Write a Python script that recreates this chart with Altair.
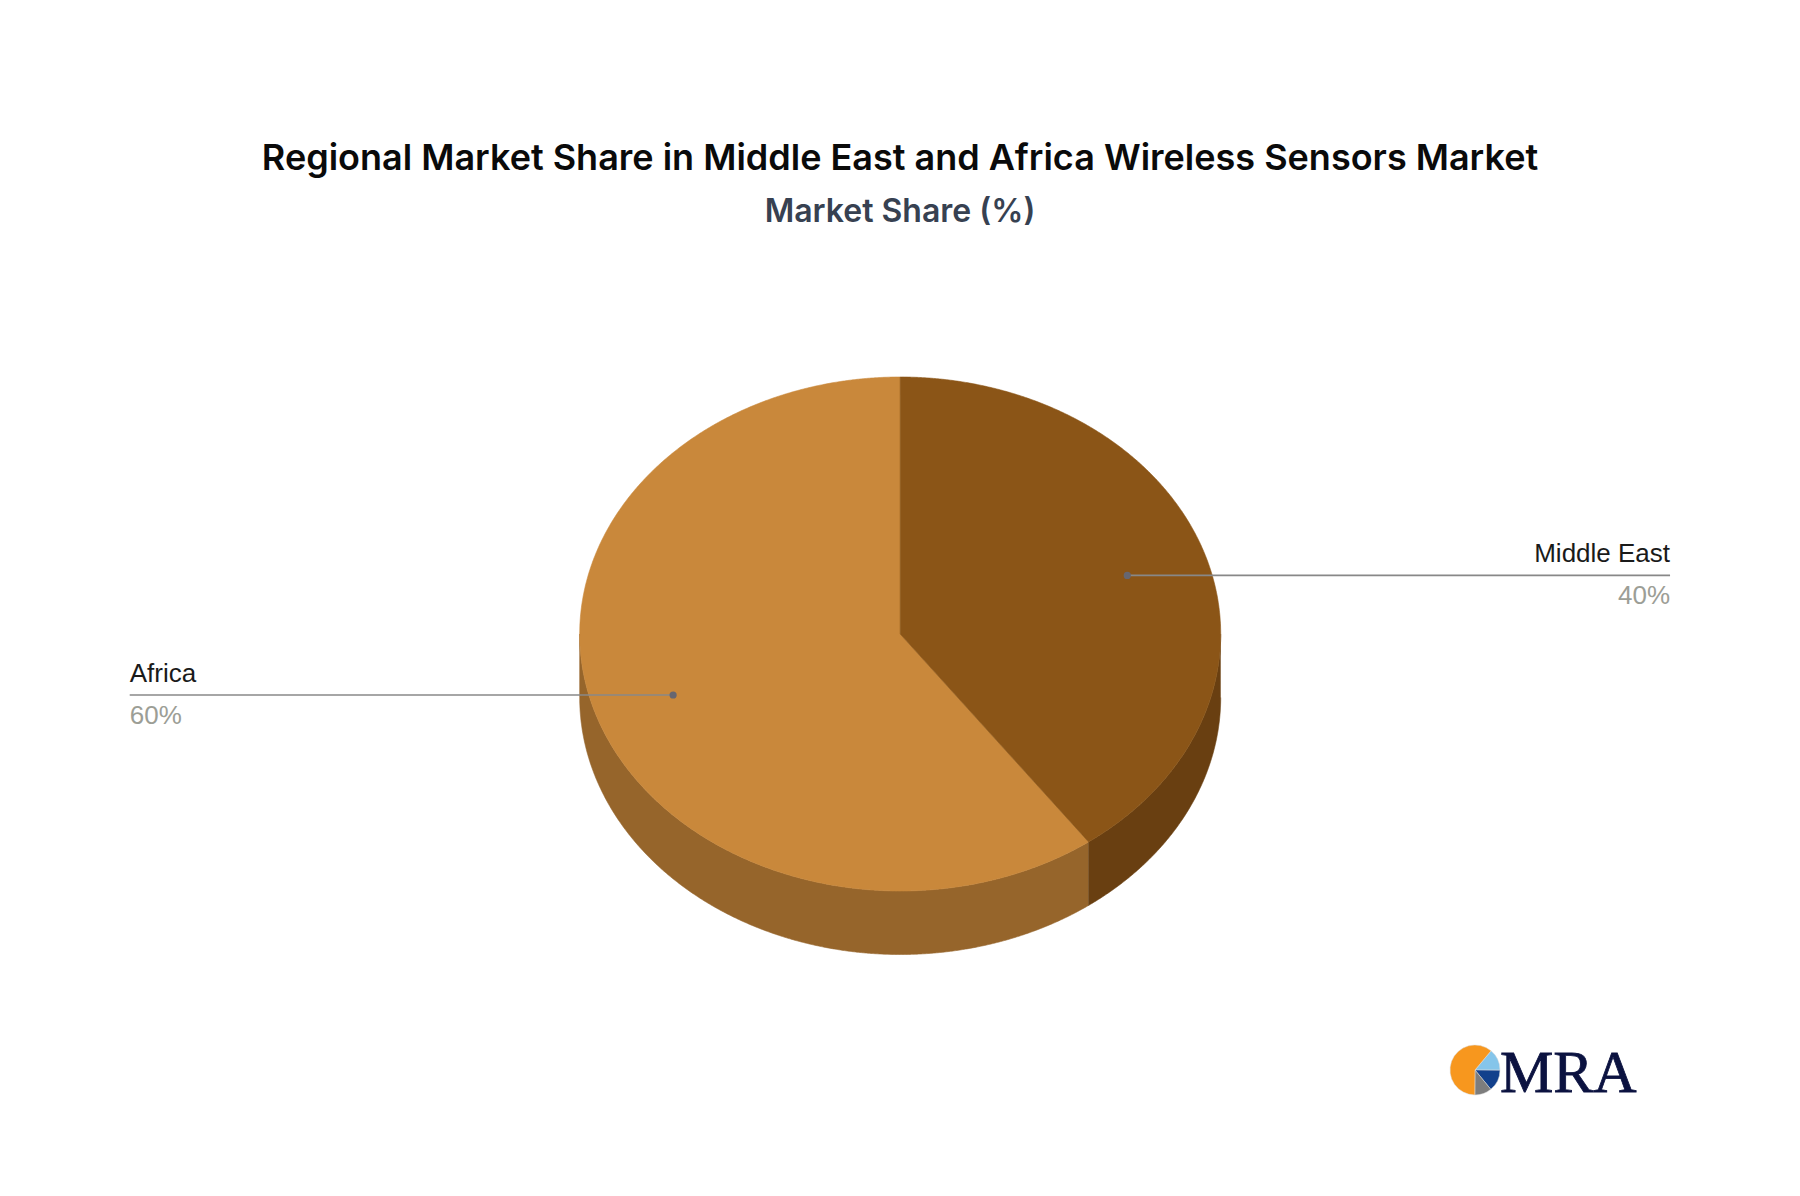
import math
import altair as alt
import pandas as pd

TITLE = "Regional Market Share in Middle East and Africa Wireless Sensors Market"
SUBTITLE = "Market Share (%)"
REGIONS = ["Middle East", "Africa"]
SHARES = [40, 60]
LEADER_Y_RADIUS = [0.738, 0.768]
LOGO_PARTS = ["sky", "navy", "grey", "orange"]
LOGO_SHARES = [14, 14, 11, 61]

PAGE = 8
TOP = 300
BOTTOM = 1188
W = 1800 - 2 * PAGE
H = BOTTOM - TOP
CX, CY, RX, RY, DEPTH = 900.2, 634, 320.5, 257, 63.5
d = DEPTH / RY
xscale = alt.Scale(domain=[(PAGE - CX) / RX, (PAGE + W - CX) / RX], nice=False, zero=False)
yscale = alt.Scale(domain=[(CY - BOTTOM) / RY, (CY - TOP) / RY], nice=False, zero=False)

# slice boundaries, clockwise from 12 o'clock, in radians
bounds = [0.0]
for s in SHARES:
    bounds.append(bounds[-1] + 2 * math.pi * s / sum(SHARES))


def arc(a, b, dy=0.0, step=math.radians(0.25)):
    n = max(2, int(abs(b - a) / step))
    return [(math.sin(a + (b - a) * i / n), math.cos(a + (b - a) * i / n) - dy) for i in range(n + 1)]


def shape(points, color):
    df = pd.DataFrame(points, columns=["x", "y"])
    df["i"] = range(len(df))
    return alt.Chart(df).mark_line(fill=color, stroke=color, strokeWidth=0.6, interpolate="linear").encode(
        x=alt.X("x:Q", scale=xscale, axis=None),
        y=alt.Y("y:Q", scale=yscale, axis=None),
        order="i:Q",
    )


def top_slice(a, b, color):
    return shape([(0.0, 0.0)] + arc(a, b) + [(0.0, 0.0)], color)


def wall(a, b, color):
    a, b = max(a, math.pi / 2), min(b, 3 * math.pi / 2)
    return shape(arc(a, b) + arc(b, a, d), color)


# Leader lines: anchored on each slice's mid angle
ANCHOR_R = 0.745
LABEL_X = 2.402
LABEL_X_LEFT = -2.404
mid = [(bounds[i] + bounds[i + 1]) / 2 for i in range(2)]
leaders = pd.DataFrame({
    "region": REGIONS,
    "pct": [f"{s}%" for s in SHARES],
    "x": [ANCHOR_R * math.sin(m) for m in mid],
    "y": [r * math.cos(m) for r, m in zip(LEADER_Y_RADIUS, mid)],
    "end": [LABEL_X, LABEL_X_LEFT],
})
pos = dict(x=alt.X("x:Q", scale=xscale, axis=None), y=alt.Y("y:Q", scale=yscale, axis=None))
rules = alt.Chart(leaders).mark_rule(color="#888888", strokeWidth=1.6).encode(
    x=alt.X("x:Q", scale=xscale, axis=None), x2="end:Q", y=alt.Y("y:Q", scale=yscale, axis=None))
dots = alt.Chart(leaders).mark_point(filled=True, color="#666670", opacity=1, size=52).encode(**pos)


def labels(df, align, field, color, dy):
    return alt.Chart(df).mark_text(
        align=align, font="Liberation Sans", fontSize=26, color=color, dy=dy, baseline="alphabetic"
    ).encode(x=alt.X("end:Q", scale=xscale, axis=None), y=alt.Y("y:Q", scale=yscale, axis=None), text=f"{field}:N")


right, left = leaders[leaders.end > 0], leaders[leaders.end < 0]
texts = [
    labels(right, "right", "region", "#1a1a1a", -13),
    labels(right, "right", "pct", "#9c9e96", 29),
    labels(left, "left", "region", "#1a1a1a", -13),
    labels(left, "left", "pct", "#9c9e96", 29),
]

# Logo
LX, LY = 1475 - PAGE, 1070 - TOP
logo_df = pd.DataFrame({"part": LOGO_PARTS, "share": LOGO_SHARES, "k": range(4)})
a0 = math.radians(40)
logo_pie = alt.Chart(logo_df).mark_arc(outerRadius=25, stroke="#dddddd", strokeWidth=0.5).encode(
    theta=alt.Theta("share:Q", stack=True, scale=alt.Scale(range=[a0, a0 + 2 * math.pi])),
    order="k:Q",
    color=alt.Color("part:N", legend=None, scale=alt.Scale(domain=LOGO_PARTS,
                    range=["#85c5ea", "#12408c", "#7d7d7d", "#f7971e"])),
    x=alt.value(LX), y=alt.value(LY),
)
logo_word = alt.Chart(pd.DataFrame({"t": ["MRA"]})).mark_text(
    font="Liberation Serif", fontSize=60, color="#0b1240", stroke="#0b1240", strokeWidth=0.8,
    align="left", baseline="alphabetic",
).encode(x=alt.value(1500 - PAGE), y=alt.value(1092 - TOP), text="t:N")

chart = alt.layer(
    wall(bounds[1], bounds[2], "#96652b"), wall(bounds[0], bounds[1], "#693f11"),
    top_slice(bounds[1], bounds[2], "#c9883b"), top_slice(bounds[0], bounds[1], "#8b5517"),
    rules, dots, *texts, logo_pie, logo_word,
).properties(
    width=W, height=H,
    padding={"left": 0, "right": 0, "top": TOP - PAGE, "bottom": 0},
    autosize=alt.AutoSizeParams(type="none"),
    background="white",
    title=alt.TitleParams(
        text=TITLE, subtitle=SUBTITLE, anchor="middle", frame="group",
        font="Inter", fontSize=36, fontWeight=600, color="#0a0a0a",
        subtitleFont="Inter", subtitleFontSize=32, subtitleFontWeight=600, subtitleColor="#374151",
        subtitlePadding=19, offset=71,
    ),
).configure_view(stroke=None)

chart.save("out.html", embed_options={"renderer": "svg", "actions": False})
